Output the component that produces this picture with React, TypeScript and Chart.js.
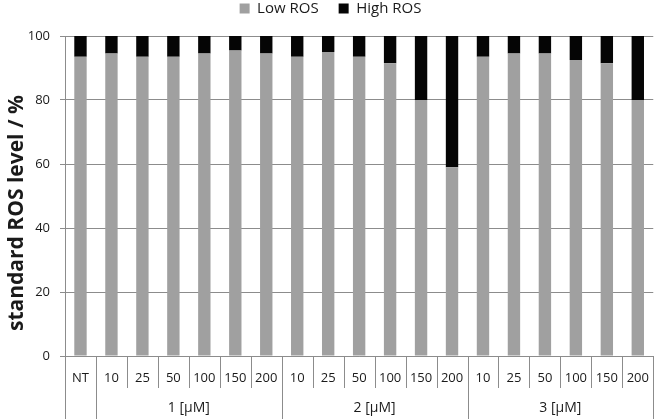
import React, { useRef, useEffect } from 'react';
import { Chart, registerables } from 'chart.js';

// Register all Chart.js components
Chart.register(...registerables);

const categories = ['NT', '10', '25', '50', '100', '150', '200', '10', '25', '50', '100', '150', '200', '10', '25', '50', '100', '150', '200'];
const groupLabels = ['', '1 [µM]', '2 [µM]', '3 [µM]'];
const groupSizes = [1, 6, 6, 6];
const lowROS = [93.5, 94.5, 93.5, 93.5, 94.5, 95.5, 94.5, 93.5, 95, 93.5, 91.5, 80, 59, 93.5, 94.5, 94.5, 92.5, 91.5, 80];
const highROS = [6.5, 5.5, 6.5, 6.5, 5.5, 4.5, 5.5, 6.5, 5, 6.5, 8.5, 20, 41, 6.5, 5.5, 5.5, 7.5, 8.5, 20];
const yTicks = [0, 20, 40, 60, 80, 100];
const yTitle = 'standard ROS level / %';

const lineGrey = '#8c8c8c';
const textColor = '#1a1a1a';
const fontFamily = '"Open Sans", sans-serif';

// fixes the legend height so the plot starts where the reference one does
const legendHeightPlugin = {
  id: 'legendHeight',
  beforeInit(chart: any) {
    const lg = chart.legend;
    if (!lg) return;
    const fit = lg.fit.bind(lg);
    lg.fit = () => {
      fit();
      lg.height = 55;
    };
  },
};

// draws the two-row category table under the plot and the rotated axis title
const tablePlugin = {
  id: 'tableAxis',
  afterDraw(chart: any) {
    const x = chart.scales.x;
    const area = chart.chartArea;
    const ctx = chart.ctx;
    const n = categories.length;
    const half = (x.getPixelForValue(1) - x.getPixelForValue(0)) / 2;
    const edge = (i: number) => (i < n ? x.getPixelForValue(i) - half : x.getPixelForValue(n - 1) + half);

    const starts: number[] = [];
    let acc = 0;
    groupSizes.forEach((s) => {
      starts.push(acc);
      acc += s;
    });
    starts.push(acc);

    const rowBottom = area.bottom + 32;
    const tableBottom = chart.height;

    ctx.save();
    ctx.strokeStyle = lineGrey;
    ctx.lineWidth = 1;
    ctx.beginPath();
    for (let i = 0; i <= n; i++) {
      const px = Math.round(edge(i)) + 0.5;
      ctx.moveTo(px, area.bottom);
      ctx.lineTo(px, starts.includes(i) ? tableBottom : rowBottom);
    }
    ctx.stroke();

    ctx.fillStyle = textColor;
    ctx.font = `14px ${fontFamily}`;
    ctx.textAlign = 'center';
    ctx.textBaseline = 'middle';
    groupLabels.forEach((label, g) => {
      if (!label) return;
      const cx = (edge(starts[g]) + edge(starts[g + 1])) / 2;
      ctx.fillText(label, cx, area.bottom + 52);
    });

    ctx.translate(17, 213);
    ctx.rotate(-Math.PI / 2);
    ctx.font = `bold 21px ${fontFamily}`;
    ctx.fillText(yTitle, 0, 0);
    ctx.restore();
  },
};

const App: React.FC = () => {
  const chartRef = useRef<HTMLCanvasElement | null>(null);
  const chartInstance = useRef<Chart | null>(null);

  useEffect(() => {
    document.body.style.margin = '0';
    if (!chartRef.current) return;
    if (chartInstance.current) {
      chartInstance.current.destroy();
    }
    const ctx = chartRef.current.getContext('2d');
    if (!ctx) return;

    chartInstance.current = new Chart(ctx, {
      type: 'bar',
      data: {
        labels: categories,
        datasets: [
          {
            label: 'Low ROS',
            data: lowROS,
            backgroundColor: '#a0a0a0',
            borderWidth: 0,
            barPercentage: 0.4,
            categoryPercentage: 1,
          },
          {
            label: 'High ROS',
            data: highROS,
            backgroundColor: '#050505',
            borderWidth: 0,
            barPercentage: 0.4,
            categoryPercentage: 1,
          },
        ],
      },
      options: {
        responsive: true,
        maintainAspectRatio: false,
        animation: false,
        layout: {
          padding: { top: -19, right: 2, left: 0, bottom: 0 },
        },
        plugins: {
          legend: {
            display: true,
            position: 'top',
            labels: {
              color: textColor,
              boxWidth: 10,
              boxHeight: 10,
              padding: 20,
              font: { family: fontFamily, size: 15, lineHeight: 1 },
            },
          },
          tooltip: { enabled: false },
        },
        scales: {
          x: {
            stacked: true,
            grid: { display: false, drawTicks: false },
            border: { display: true, color: lineGrey },
            ticks: {
              color: textColor,
              padding: 14,
              autoSkip: false,
              maxRotation: 0,
              font: { family: fontFamily, size: 13 },
            },
            afterFit: (scale: any) => {
              scale.height = 63;
            },
          },
          y: {
            stacked: true,
            min: yTicks[0],
            max: yTicks[yTicks.length - 1],
            grid: { color: lineGrey, tickLength: 5, drawTicks: true },
            border: { display: true, color: lineGrey },
            ticks: {
              stepSize: yTicks[1] - yTicks[0],
              color: textColor,
              padding: 10,
              font: { family: fontFamily, size: 13 },
            },
            afterFit: (scale: any) => {
              scale.width = 65;
            },
          },
        },
      },
      plugins: [legendHeightPlugin, tablePlugin],
    });

    return () => {
      if (chartInstance.current) {
        chartInstance.current.destroy();
        chartInstance.current = null;
      }
    };
  }, []);

  return (
    <div style={{ width: '663px', height: '419px', position: 'relative' }}>
      <canvas ref={chartRef}></canvas>
    </div>
  );
};

export default App;
